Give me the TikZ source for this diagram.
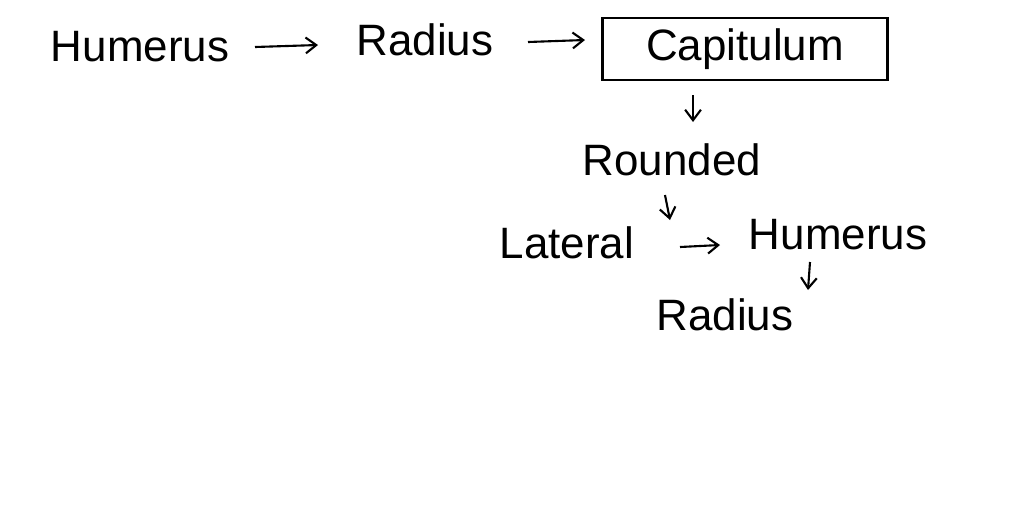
\documentclass[tikz,border=0pt]{standalone}
\usepackage{fontspec}
\setmainfont{Liberation Sans}
\usetikzlibrary{arrows.meta}
\begin{document}
\begin{tikzpicture}[x=0.02cm,y=-0.02cm,
  lbl/.style={font=\fontsize{25}{28}\selectfont, inner sep=2pt},
  arr/.style={-{Straight Barb[length=6pt,width=9pt]}, line width=1.2pt}]
\useasboundingbox (0,0) rectangle (1024,512);
\node[lbl] (h1) at (140,47) {Humerus};
\node[lbl] (r1) at (425,40) {Radius};
\node[lbl, draw, line width=1.2pt, minimum width=5.7cm, minimum height=1.24cm] (c) at (745,49) {Capitulum};
\node[lbl] (ro) at (672,160) {Rounded};
\node[lbl] (la) at (567,243) {Lateral};
\node[lbl] (h2) at (838,235) {Humerus};
\node[lbl] (r2) at (725,315) {Radius};
\coordinate (a1s) at (255,47); \coordinate (a1e) at (318,45);
\coordinate (a2s) at (528,42); \coordinate (a2e) at (585,40);
\coordinate (a3s) at (693,95); \coordinate (a3e) at (693,122);
\coordinate (a4s) at (665,195); \coordinate (a4e) at (670,220);
\coordinate (a5s) at (680,247); \coordinate (a5e) at (720,245);
\coordinate (a6s) at (810,262); \coordinate (a6e) at (808,290);
\draw[arr] (a1s) -- (a1e);
\draw[arr] (a2s) -- (a2e);
\draw[arr] (a3s) -- (a3e);
\draw[arr] (a4s) -- (a4e);
\draw[arr] (a5s) -- (a5e);
\draw[arr] (a6s) -- (a6e);
\end{tikzpicture}
\end{document}
